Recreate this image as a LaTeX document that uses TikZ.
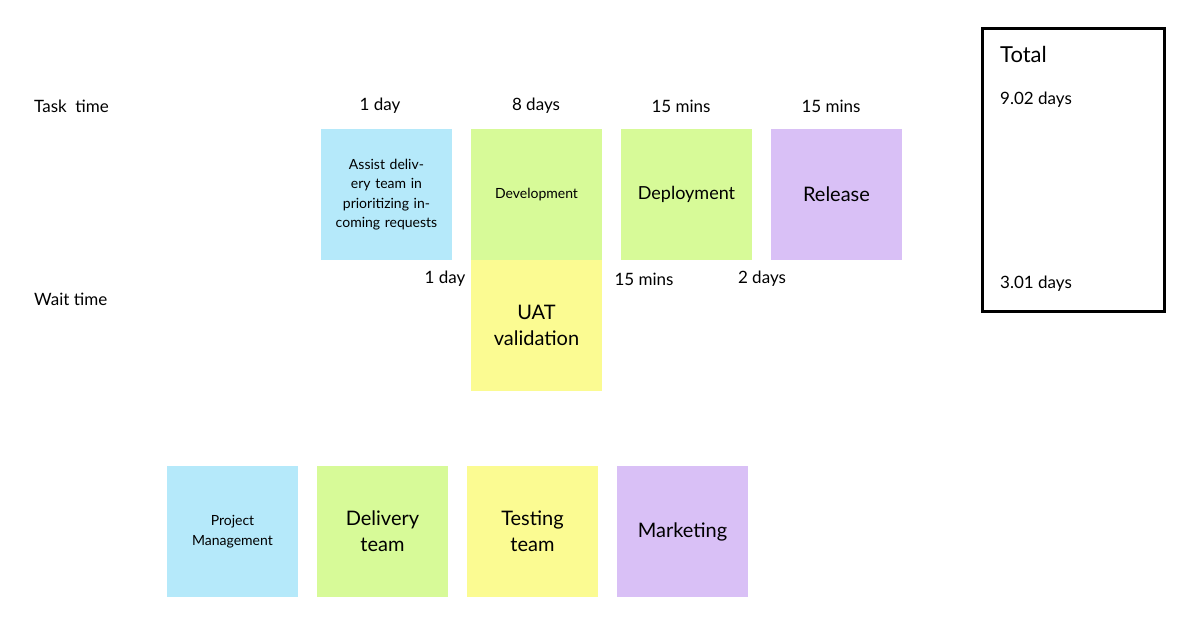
\documentclass[tikz,border=0pt]{standalone}
\usepackage{fontspec}
\setmainfont{Lato}
\definecolor{stblue}{HTML}{B5E9FA}
\definecolor{stgreen}{HTML}{D7FA98}
\definecolor{styellow}{HTML}{FBFB92}
\definecolor{stpurple}{HTML}{D9C0F6}
\begin{document}
\begin{tikzpicture}[
  x = 1pt, y = -1pt,
  sticky/.style = {
    shape = rectangle,
    minimum size = 131pt,
    inner sep = 0pt,
    outer sep = 0pt,
    text width = 110pt,
    align = center,
    font = \fontsize{18}{24}\selectfont,
  },
  smalltext/.style = {font = \fontsize{14}{19.5}\selectfont},
  label/.style = {font = \fontsize{17}{20}\selectfont, inner sep = 0pt},
]
  \useasboundingbox (0, 0) rectangle (1200, 627);

  \node[label, anchor = west] (tasklbl) at (34, 106) {Task\ \ time};
  \node[label, anchor = west] (waitlbl) at (34, 299) {Wait time};

  \node[sticky, smalltext, fill = stblue] (assist) at (386.5, 194.5) {Assist delivery team in prioritizing incoming requests};
  \node[sticky, smalltext, fill = stgreen] (dev) at (536.5, 194.5) {Development};
  \node[sticky, fill = stgreen] (deploy) at (686.5, 194.5) {Deployment};
  \node[sticky, fill = stpurple, font = \fontsize{20}{24}\selectfont] (release) at (836.5, 194.5) {Release};
  \node[sticky, fill = styellow, font = \fontsize{20}{26}\selectfont] (uat) at (536.5, 325.5) {UAT\\validation};

  \node[label] (t1) at (380, 106) {1 day};
  \node[label] (t2) at (536, 106) {8 days};
  \node[label] (t3) at (681, 106) {15 mins};
  \node[label] (t4) at (831, 106) {15 mins};

  \node[label] (w1) at (445, 279) {1 day};
  \node[label] (w2) at (644, 279) {15 mins};
  \node[label] (w3) at (762, 279) {2 days};

  \node[sticky, smalltext, fill = stblue] (pm) at (232.5, 531.5) {Project\\Management};
  \node[sticky, fill = stgreen, font = \fontsize{20}{26}\selectfont] (delivery) at (382.5, 531.5) {Delivery\\team};
  \node[sticky, fill = styellow, font = \fontsize{20}{26}\selectfont] (testing) at (532.5, 531.5) {Testing\\team};
  \node[sticky, fill = stpurple, font = \fontsize{20}{26}\selectfont] (marketing) at (682.5, 531.5) {Marketing};

  \draw[line width = 3pt] (982, 28) rectangle (1164, 311);
  \node[label, anchor = west, font = \fontsize{22}{26}\selectfont] (total) at (1000, 54) {Total};
  \node[label, anchor = west] (ttask) at (1000, 100) {9.02 days};
  \node[label, anchor = west] (twait) at (1000, 284) {3.01 days};
\end{tikzpicture}
\end{document}
